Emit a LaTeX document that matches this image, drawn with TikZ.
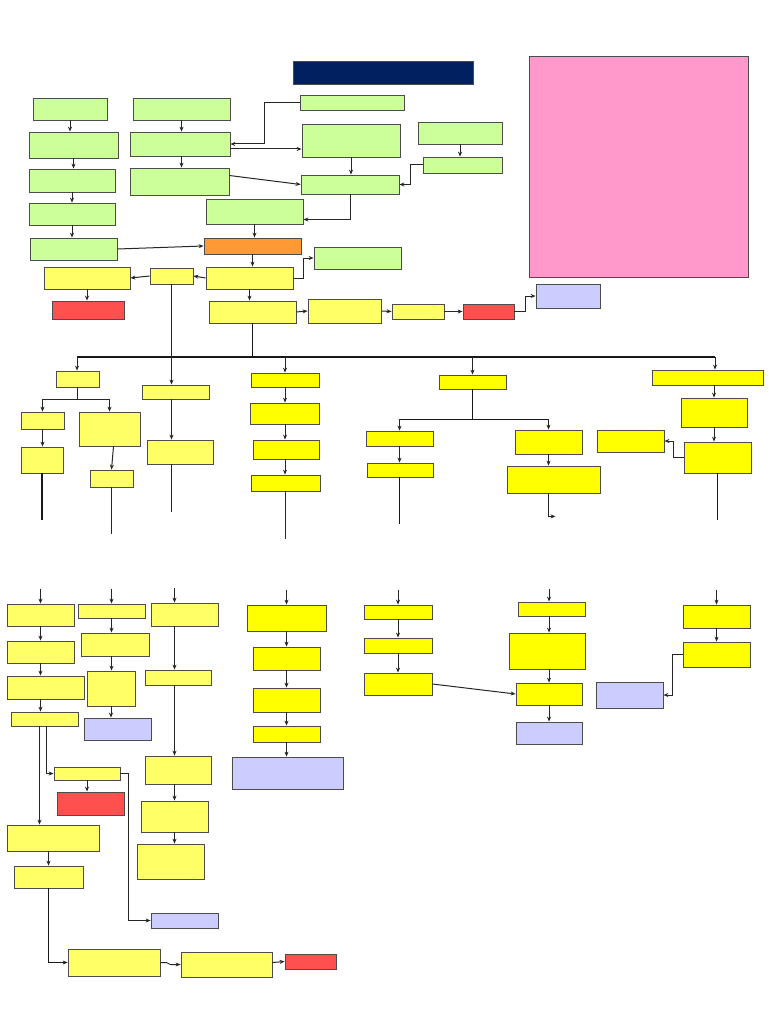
\documentclass[tikz,border=0pt]{standalone}
\usetikzlibrary{fit,arrows.meta}

\definecolor{lgreen}{RGB}{204,255,153}
\definecolor{pyellow}{RGB}{255,255,102}
\definecolor{byellow}{RGB}{255,255,0}
\definecolor{lred}{RGB}{255,80,80}
\definecolor{lav}{RGB}{204,204,255}
\definecolor{orng}{RGB}{255,153,51}
\definecolor{pnk}{RGB}{255,153,204}
\definecolor{nvy}{RGB}{0,32,96}

\tikzset{
  bx/.style={draw=black!70, line width=0.8pt, inner sep=0pt},
  grn/.style={bx, fill=lgreen},
  pyl/.style={bx, fill=pyellow},
  byl/.style={bx, fill=byellow},
  rdb/.style={bx, fill=lred},
  lvb/.style={bx, fill=lav},
  conn/.style={-{Stealth[length=5pt,width=4pt]}, line width=1pt, black!85},
  ln/.style={line width=1pt, black!85},
  thk/.style={line width=1.8pt, black!90}
}

\begin{document}
\begin{tikzpicture}[x=1pt, y=-1pt]
    \useasboundingbox (0,0) rectangle (768,1024);

    % top block
    \node[bx, fill=nvy, fit={(293,61) (473,84)}] (title) {};
    \node[bx, fill=pnk, fit={(529,56) (748,277)}] (note) {};
    \node[grn, fit={(33,98) (107,120)}] (g1a) {};
    \node[grn, fit={(29,132) (118,158)}] (g1b) {};
    \node[grn, fit={(29,169) (115,192)}] (g1c) {};
    \node[grn, fit={(29,203) (115,225)}] (g1d) {};
    \node[grn, fit={(30,238) (117,260)}] (g1e) {};
    \node[grn, fit={(133,98) (230,120)}] (g2a) {};
    \node[grn, fit={(130,132) (230,156)}] (g2b) {};
    \node[grn, fit={(130,168) (229,195)}] (g2c) {};
    \node[grn, fit={(206,199) (303,224)}] (g3) {};
    \node[grn, fit={(300,95) (404,110)}] (g4) {};
    \node[grn, fit={(302,124) (400,157)}] (g5) {};
    \node[grn, fit={(418,122) (502,144)}] (g6) {};
    \node[grn, fit={(423,157) (502,173)}] (g7) {};
    \node[grn, fit={(301,175) (399,194)}] (g8) {};
    \node[grn, fit={(314,247) (401,269)}] (g9) {};
    \node[bx, fill=orng, fit={(204,238) (301,254)}] (hub) {};
    \node[pyl, fit={(206,267) (293,289)}] (y1) {};
    \node[pyl, fit={(150,268) (193,284)}] (ys) {};
    \node[pyl, fit={(44,267) (130,289)}] (yl) {};
    \node[rdb, fit={(52,301) (124,319)}] (rd1) {};
    \node[pyl, fit={(209,301) (296,323)}] (y2) {};
    \node[pyl, fit={(308,299) (381,323)}] (y3) {};
    \node[pyl, fit={(392,304) (444,319)}] (y4) {};
    \node[rdb, fit={(463,304) (514,319)}] (rd2) {};
    \node[lvb, fit={(536,284) (600,308)}] (lv1) {};

    \draw[conn] (g1a.south) -- (g1a.south |- g1b.north);
    \draw[conn] (g1b.south) -- (g1b.south |- g1c.north);
    \draw[conn] (g1c.south) -- (g1c.south |- g1d.north);
    \draw[conn] (g1d.south) -- (g1d.south |- g1e.north);
    \draw[conn] (g2a.south) -- (g2a.south |- g2b.north);
    \draw[conn] (g2a.south |- g2b.south) -- (g2a.south |- g2c.north);
    \draw[conn] (g4.west) -- ++(-35,0) |- (g2b.east);
    \draw[conn] ([yshift=-5pt]g2b.east) -- ([yshift=-5pt]g2b.east -| g5.west);
    \draw[conn] ([yshift=6pt]g2c.east) -- (g8.west);
    \draw[conn] (g5.south) -- (g5.south |- g8.north);
    \draw[conn] (g6.south) -- (g6.south |- g7.north);
    \draw[conn] (g7.west) -- ++(-12,0) |- (g8.east);
    \draw[conn] (g8.south) |- ([yshift=-8pt]g3.east);
    \draw[conn] (g3.south) -- (g3.south |- hub.north);
    \draw[conn] (g1e.east) -- (hub.west);
    \draw[conn] (hub.south) -- (hub.south |- y1.north);
    \draw[conn] (y1.east) -- ++(10,0) |- (g9.west);
    \draw[conn] (y1.west) -- (ys.east);
    \draw[conn] (ys.west) -- (yl.east);
    \draw[conn] (yl.south) -- (yl.south |- rd1.north);
    \draw[conn] (y1.south) -- (y1.south |- y2.north);
    \draw[conn] (y2.east) -- (y3.west);
    \draw[conn] (y3.east) -- (y4.west);
    \draw[conn] (y4.east) -- (rd2.west);
    \draw[conn] (rd2.east) -- ++(11,0) |- (lv1.west);

    % middle block
    \coordinate (busl) at (77,357);
    \coordinate (busr) at (715,357);
    \draw[thk] (y2.south) -- (y2.south |- busl);
    \draw[thk] (busl) -- (busr);

    \node[pyl, fit={(56,371) (99,387)}] (l1) {};
    \node[pyl, fit={(21,412) (64,429)}] (l2a) {};
    \node[pyl, fit={(79,412) (140,446)}] (l2b) {};
    \node[pyl, fit={(21,447) (63,473)}] (l3a) {};
    \node[pyl, fit={(90,470) (133,487)}] (l3b) {};
    \node[pyl, fit={(142,385) (209,399)}] (m1) {};
    \node[pyl, fit={(147,440) (213,464)}] (m2) {};
    \node[byl, fit={(251,373) (319,387)}] (c1) {};
    \node[byl, fit={(250,403) (319,424)}] (c2) {};
    \node[byl, fit={(253,440) (319,459)}] (c3) {};
    \node[byl, fit={(251,475) (320,491)}] (c4) {};
    \node[byl, fit={(439,375) (506,389)}] (d1) {};
    \node[byl, fit={(366,431) (433,446)}] (d2l) {};
    \node[byl, fit={(515,430) (582,454)}] (d2r) {};
    \node[byl, fit={(367,463) (433,477)}] (d3l) {};
    \node[byl, fit={(507,466) (600,493)}] (d3r) {};
    \node[byl, fit={(652,370) (763,385)}] (r1) {};
    \node[byl, fit={(681,398) (747,427)}] (r2) {};
    \node[byl, fit={(684,442) (751,473)}] (r3) {};
    \node[byl, fit={(597,430) (664,452)}] (r3l) {};

    \draw[conn] (busl) -- (busl |- l1.north);
    \draw[conn] (c1.north |- busl) -- (c1.north);
    \draw[conn] (d1.north |- busl) -- (d1.north);
    \draw[conn] (busr) -- (busr |- r1.north);
    \draw[conn] (ys.south) -- (ys.south |- m1.north);
    \draw[conn] (m1.south -| ys.south) -- (m2.north -| ys.south);
    \draw[ln] (m2.south -| ys.south) -- ++(0,48);

    \draw[ln] (l1.south) -- ++(0,12) coordinate (lsp);
    \draw[ln] (l2a.north |- lsp) -- (l2b.north |- lsp);
    \draw[conn] (l2a.north |- lsp) -- (l2a.north);
    \draw[conn] (l2b.north |- lsp) -- (l2b.north);
    \draw[conn] (l2a.south) -- (l2a.south |- l3a.north);
    \draw[conn] ([xshift=4pt]l2b.south) -- (l3b.north);
    \draw[thk] (l3a.south) -- ++(0,47);
    \draw[ln] (l3b.south) -- ++(0,47);

    \draw[conn] (c1.south) -- (c1.south |- c2.north);
    \draw[conn] (c1.south |- c2.south) -- (c1.south |- c3.north);
    \draw[conn] (c1.south |- c3.south) -- (c1.south |- c4.north);
    \draw[ln] (c1.south |- c4.south) -- ++(0,48);

    \draw[thk] (d1.south) -- ++(0,30) coordinate (dsp);
    \draw[thk] (d2l.north |- dsp) -- (d2r.north |- dsp);
    \draw[conn] (d2l.north |- dsp) -- (d2l.north);
    \draw[conn] (d2r.north |- dsp) -- (d2r.north);
    \draw[conn] (d2l.south) -- (d2l.south |- d3l.north);
    \draw[thk] (d2l.south |- d3l.south) -- ++(0,47);
    \draw[conn] (d2r.south) -- (d2r.south |- d3r.north);
    \draw[conn] (d2r.south |- d3r.south) -- ++(0,23) -- ++(7,0);

    \draw[conn] (r2.north |- r1.south) -- (r2.north);
    \draw[conn] (r2.south) -- (r2.south |- r3.north);
    \draw[conn] (r3.west) -- ++(-10,0) |- (r3l.east);
    \draw[thk] (r3.south) -- ++(0,47);

    % bottom block
    \node[pyl, fit={(7,604) (74,626)}] (a1) {};
    \node[pyl, fit={(7,641) (74,663)}] (a2) {};
    \node[pyl, fit={(7,676) (84,699)}] (a3) {};
    \node[pyl, fit={(11,712) (78,726)}] (a4) {};
    \node[pyl, fit={(54,767) (120,780)}] (a4b) {};
    \node[rdb, fit={(57,792) (124,815)}] (rd3) {};
    \node[lvb, fit={(151,913) (218,928)}] (lv2) {};
    \node[pyl, fit={(7,825) (99,851)}] (a5) {};
    \node[pyl, fit={(14,866) (83,888)}] (a6) {};
    \node[pyl, fit={(68,949) (160,976)}] (a7) {};
    \node[pyl, fit={(181,952) (272,977)}] (a8) {};
    \node[rdb, fit={(285,954) (336,969)}] (rd4) {};
    \node[pyl, fit={(78,604) (145,618)}] (b1) {};
    \node[pyl, fit={(81,633) (149,656)}] (b2) {};
    \node[pyl, fit={(87,671) (135,706)}] (b3) {};
    \node[lvb, fit={(84,718) (151,740)}] (lv3) {};
    \node[pyl, fit={(151,603) (218,626)}] (cb1) {};
    \node[pyl, fit={(145,670) (211,685)}] (cb2) {};
    \node[pyl, fit={(145,756) (211,784)}] (cb3) {};
    \node[pyl, fit={(141,801) (208,832)}] (cb4) {};
    \node[pyl, fit={(137,844) (204,879)}] (cb5) {};
    \node[byl, fit={(247,605) (326,631)}] (db1) {};
    \node[byl, fit={(253,647) (320,670)}] (db2) {};
    \node[byl, fit={(253,688) (320,712)}] (db3) {};
    \node[byl, fit={(253,726) (320,742)}] (db4) {};
    \node[lvb, fit={(232,757) (343,789)}] (lv4) {};
    \node[byl, fit={(364,605) (432,619)}] (e1) {};
    \node[byl, fit={(364,638) (432,653)}] (e2) {};
    \node[byl, fit={(364,673) (432,695)}] (e3) {};
    \node[byl, fit={(518,602) (585,616)}] (f1) {};
    \node[byl, fit={(509,633) (585,669)}] (f2) {};
    \node[byl, fit={(516,683) (582,705)}] (f3) {};
    \node[lvb, fit={(516,722) (582,744)}] (lv5) {};
    \node[byl, fit={(683,605) (750,628)}] (gg1) {};
    \node[byl, fit={(683,642) (750,667)}] (gg2) {};
    \node[lvb, fit={(596,682) (663,708)}] (lv6) {};

    % incoming arrows
    \draw[conn] ([yshift=15pt]a1.north) -- (a1.north);
    \draw[conn] ([yshift=15pt]b1.north) -- (b1.north);
    \draw[conn] ([yshift=15pt]cb4.north |- cb1.north) -- (cb4.north |- cb1.north);
    \draw[conn] ([yshift=15pt]db1.north) -- (db1.north);
    \draw[conn] ([yshift=15pt]e1.north) -- (e1.north);
    \draw[conn] ([yshift=13pt]f3.north |- f1.north) -- (f3.north |- f1.north);
    \draw[conn] ([yshift=15pt]gg1.north) -- (gg1.north);

    \draw[conn] (a1.south) -- (a1.south |- a2.north);
    \draw[conn] (a2.south) -- (a2.south |- a3.north);
    \draw[conn] (a2.south |- a3.south) -- (a2.south |- a4.north);
    \draw[conn] ([xshift=-5pt]a4.south) coordinate (a4l) -- (a4l |- a5.north);
    \draw[conn] ([xshift=2pt]a4.south) |- (a4b.west);
    \draw[conn] (a4b.south) -- (a4b.south |- rd3.north);
    \draw[conn] (a4b.east) -- ++(8,0) |- (lv2.west);
    \draw[conn] (a6.north |- a5.south) -- (a6.north);
    \draw[conn, thk] (a6.south) |- (a7.west);
    \draw[conn] (a7.east) -- ++(6,0) -- ++(4,2) -- (a8.west);
    \draw[conn] ([yshift=2pt]a8.east) -- (rd4.west);

    \draw[conn] (b1.south) -- (b1.south |- b2.north);
    \draw[conn] (b1.south |- b2.south) -- (b1.south |- b3.north);
    \draw[conn] (b3.south) -- (b3.south |- lv3.north);

    \draw[conn] (cb4.north |- cb1.south) -- (cb4.north |- cb2.north);
    \draw[conn] (cb4.north |- cb2.south) -- (cb4.north |- cb3.north);
    \draw[conn] (cb4.north |- cb3.south) -- (cb4.north);
    \draw[conn] (cb4.south) -- (cb4.south |- cb5.north);

    \draw[conn] (db1.south) -- (db1.south |- db2.north);
    \draw[conn] (db2.south) -- (db2.south |- db3.north);
    \draw[conn] (db3.south) -- (db3.south |- db4.north);
    \draw[conn] (db4.south) -- (db4.south |- lv4.north);

    \draw[conn] (e1.south) -- (e1.south |- e2.north);
    \draw[conn] (e2.south) -- (e2.south |- e3.north);
    \draw[conn] (e3.east) -- (f3.west);

    \draw[conn] (f3.north |- f1.south) -- (f3.north |- f2.north);
    \draw[conn] (f3.north |- f2.south) -- (f3.north);
    \draw[conn] (f3.south) -- (f3.south |- lv5.north);

    \draw[conn] (gg1.south) -- (gg1.south |- gg2.north);
    \draw[conn] (gg2.west) -- ++(-10,0) |- (lv6.east);
\end{tikzpicture}
\end{document}
